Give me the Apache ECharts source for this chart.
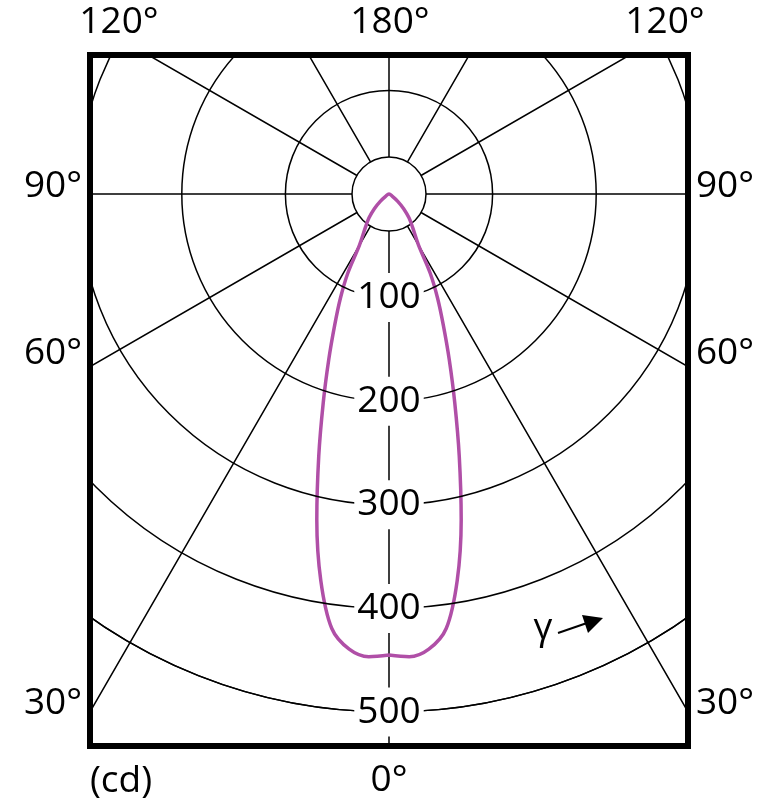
<!DOCTYPE html>
<html>
<head>
<meta charset="utf-8">
<script src="https://cdn.jsdelivr.net/npm/echarts@6/dist/echarts.min.js"></script>
<style>
html, body { margin: 0; padding: 0; background: #fff; }
#chart { width: 778px; height: 800px; }
</style>
</head>
<body>
<div id="chart"></div>
<script>
// luminous intensity (cd) per gamma angle, one half of a symmetric curve
// (zero from 60 deg up to 180 deg)
var gammaDeg = [0, 2.5, 5, 7.5, 10, 12.5, 15, 17.5, 20, 22.5, 25, 27.5, 30, 35, 40, 45, 50, 55, 60];
var intensity = [445, 447, 441, 423, 379, 322, 262, 211, 170, 137, 111, 86, 57, 40, 30, 20, 11, 4, 0];

// rings every 100 cd up to 500, spokes every 30 deg
var radiusMax = 500;
var radiusStep = 100;
var spokeStep = 30;

var angleLabels = ['120°', '180°', '120°', '90°', '90°', '60°', '60°', '30°', '30°', '0°'];
var unitLabel = '(cd)';
var gammaLabel = 'γ';

var font = '"Open Sans", sans-serif';
var center = [389, 194];

// left half goes clockwise from the bottom, right half is mirrored (360 - gamma)
var curve = [];
for (var i = 0; i < gammaDeg.length; i++) {
  curve.push([intensity[i], gammaDeg[i]]);
}
for (var j = gammaDeg.length - 2; j >= 0; j--) {
  curve.push([intensity[j], 360 - gammaDeg[j]]);
}

var labelPos = [[119, 22], [390, 22], [665, 22], [53, 186], [725, 186], [53, 353], [725, 353], [53, 703], [725, 703], [389, 780]];

function textEl(txt, x, y) {
  return {
    type: 'text', x: x, y: y, z: 110,
    style: {
      text: txt, fontSize: 37, fontFamily: font, fill: '#000',
      textAlign: 'center', textVerticalAlign: 'middle',
      align: 'center', verticalAlign: 'middle'
    }
  };
}

var graphics = [
  // white masks so the polar grid looks clipped by the frame
  { type: 'rect', z: 100, shape: { x: 0, y: 0, width: 778, height: 52 }, style: { fill: '#fff' } },
  { type: 'rect', z: 100, shape: { x: 0, y: 0, width: 87, height: 800 }, style: { fill: '#fff' } },
  { type: 'rect', z: 100, shape: { x: 691, y: 0, width: 87, height: 800 }, style: { fill: '#fff' } },
  { type: 'rect', z: 100, shape: { x: 0, y: 749, width: 778, height: 51 }, style: { fill: '#fff' } },
  { type: 'rect', z: 105, shape: { x: 90, y: 55, width: 598, height: 691 }, style: { fill: 'none', stroke: '#000', lineWidth: 6 } },
  // gamma arrow
  { type: 'polyline', z: 110, shape: { points: [[558, 633], [587, 623]] }, style: { stroke: '#000', lineWidth: 2 } },
  { type: 'polygon', z: 110, shape: { points: [[603, 618], [582, 615], [588, 633]] }, style: { fill: '#000' } },
  textEl(gammaLabel, 543, 628),
  textEl(unitLabel, 121, 781)
];
for (var k = 0; k < angleLabels.length; k++) {
  graphics.push(textEl(angleLabels[k], labelPos[k][0], labelPos[k][1]));
}

var chart = echarts.init(document.getElementById('chart'));
chart.setOption({
  animation: false,
  backgroundColor: '#fff',
  polar: [
    { center: center, radius: [0, 518] },
    { center: center, radius: [37, 700] }
  ],
  angleAxis: [
    {
      polarIndex: 0, type: 'value', min: 0, max: 360, interval: spokeStep,
      startAngle: 270, clockwise: true,
      axisLine: { show: true, lineStyle: { color: '#000', width: 1.5 } },
      axisTick: { show: false }, axisLabel: { show: false }, splitLine: { show: false }
    },
    {
      polarIndex: 1, type: 'value', min: 0, max: 360, interval: spokeStep,
      startAngle: 270, clockwise: true,
      axisLine: { show: true, lineStyle: { color: '#000', width: 1.5 } },
      axisTick: { show: false }, axisLabel: { show: false },
      splitLine: { show: true, lineStyle: { color: '#000', width: 1.5 } }
    }
  ],
  radiusAxis: [
    {
      polarIndex: 0, type: 'value', min: 0, max: radiusMax, interval: radiusStep, z: 5,
      axisLine: { show: false }, axisTick: { show: false },
      splitLine: { show: true, lineStyle: { color: '#000', width: 1.5 } },
      axisLabel: {
        show: true, showMinLabel: false, margin: 0,
        align: 'center', verticalAlign: 'middle',
        fontSize: 37, fontFamily: font, color: '#000',
        backgroundColor: '#fff', padding: [6, 3]
      }
    },
    { polarIndex: 1, type: 'value', min: 0, max: radiusMax, show: false }
  ],
  series: [{
    type: 'line',
    coordinateSystem: 'polar',
    polarIndex: 0,
    data: curve,
    symbol: 'none',
    smooth: 0.35,
    z: 3,
    lineStyle: { color: '#b04fa7', width: 3.5 }
  }],
  graphic: { elements: graphics }
});
</script>
</body>
</html>
